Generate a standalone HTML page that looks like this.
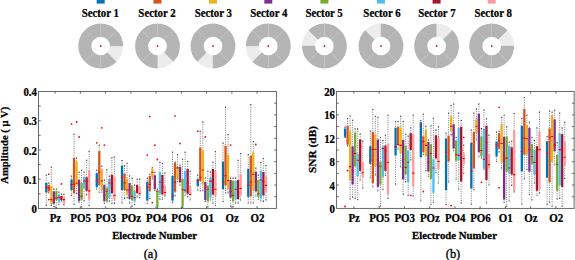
<!DOCTYPE html><html><head><meta charset="utf-8"><style>html,body{margin:0;padding:0;background:#fff;width:575px;height:260px;overflow:hidden}svg{display:block}text{font-family:"Liberation Serif",serif;fill:#000}</style></head><body>
<svg width="575" height="260" viewBox="0 0 575 260">
<rect x="96.70" y="0" width="8.0" height="3.6" fill="#0072BD"/>
<text transform="translate(100.30,16.70) scale(0.9,1)" font-size="12" text-anchor="middle" font-weight="bold" stroke="#000" stroke-width="0.25">Sector 1</text>
<path d="M123.10,46.00 A22.4,22.4 0 0 1 116.54,61.84 L107.31,52.61 A9.35,9.35 0 0 0 110.05,46.00 Z" fill="#ececec"/>
<path d="M116.54,61.84 A22.4,22.4 0 0 1 100.70,68.40 L100.70,55.35 A9.35,9.35 0 0 0 107.31,52.61 Z" fill="#b4b4b4"/>
<path d="M100.70,68.40 A22.4,22.4 0 0 1 84.86,61.84 L94.09,52.61 A9.35,9.35 0 0 0 100.70,55.35 Z" fill="#b4b4b4"/>
<path d="M84.86,61.84 A22.4,22.4 0 0 1 78.30,46.00 L91.35,46.00 A9.35,9.35 0 0 0 94.09,52.61 Z" fill="#b4b4b4"/>
<path d="M78.30,46.00 A22.4,22.4 0 0 1 84.86,30.16 L94.09,39.39 A9.35,9.35 0 0 0 91.35,46.00 Z" fill="#b4b4b4"/>
<path d="M84.86,30.16 A22.4,22.4 0 0 1 100.70,23.60 L100.70,36.65 A9.35,9.35 0 0 0 94.09,39.39 Z" fill="#b4b4b4"/>
<path d="M100.70,23.60 A22.4,22.4 0 0 1 116.54,30.16 L107.31,39.39 A9.35,9.35 0 0 0 100.70,36.65 Z" fill="#b4b4b4"/>
<path d="M116.54,30.16 A22.4,22.4 0 0 1 123.10,46.00 L110.05,46.00 A9.35,9.35 0 0 0 107.31,39.39 Z" fill="#b4b4b4"/>
<line x1="110.05" y1="46.00" x2="123.10" y2="46.00" stroke="#bebebe" stroke-width="0.4"/>
<line x1="107.31" y1="52.61" x2="116.54" y2="61.84" stroke="#bebebe" stroke-width="0.4"/>
<line x1="100.70" y1="55.35" x2="100.70" y2="68.40" stroke="#bebebe" stroke-width="0.4"/>
<line x1="94.09" y1="52.61" x2="84.86" y2="61.84" stroke="#bebebe" stroke-width="0.4"/>
<line x1="91.35" y1="46.00" x2="78.30" y2="46.00" stroke="#bebebe" stroke-width="0.4"/>
<line x1="94.09" y1="39.39" x2="84.86" y2="30.16" stroke="#bebebe" stroke-width="0.4"/>
<line x1="100.70" y1="36.65" x2="100.70" y2="23.60" stroke="#bebebe" stroke-width="0.4"/>
<line x1="107.31" y1="39.39" x2="116.54" y2="30.16" stroke="#bebebe" stroke-width="0.4"/>
<circle cx="100.70" cy="46.0" r="0.95" fill="#c0282d"/>
<rect x="153.50" y="0" width="8.0" height="3.6" fill="#D95319"/>
<text transform="translate(157.00,16.70) scale(0.9,1)" font-size="12" text-anchor="middle" font-weight="bold" stroke="#000" stroke-width="0.25">Sector 2</text>
<path d="M179.90,46.00 A22.4,22.4 0 0 1 173.34,61.84 L164.11,52.61 A9.35,9.35 0 0 0 166.85,46.00 Z" fill="#b4b4b4"/>
<path d="M173.34,61.84 A22.4,22.4 0 0 1 157.50,68.40 L157.50,55.35 A9.35,9.35 0 0 0 164.11,52.61 Z" fill="#ececec"/>
<path d="M157.50,68.40 A22.4,22.4 0 0 1 141.66,61.84 L150.89,52.61 A9.35,9.35 0 0 0 157.50,55.35 Z" fill="#b4b4b4"/>
<path d="M141.66,61.84 A22.4,22.4 0 0 1 135.10,46.00 L148.15,46.00 A9.35,9.35 0 0 0 150.89,52.61 Z" fill="#b4b4b4"/>
<path d="M135.10,46.00 A22.4,22.4 0 0 1 141.66,30.16 L150.89,39.39 A9.35,9.35 0 0 0 148.15,46.00 Z" fill="#b4b4b4"/>
<path d="M141.66,30.16 A22.4,22.4 0 0 1 157.50,23.60 L157.50,36.65 A9.35,9.35 0 0 0 150.89,39.39 Z" fill="#b4b4b4"/>
<path d="M157.50,23.60 A22.4,22.4 0 0 1 173.34,30.16 L164.11,39.39 A9.35,9.35 0 0 0 157.50,36.65 Z" fill="#b4b4b4"/>
<path d="M173.34,30.16 A22.4,22.4 0 0 1 179.90,46.00 L166.85,46.00 A9.35,9.35 0 0 0 164.11,39.39 Z" fill="#b4b4b4"/>
<line x1="166.85" y1="46.00" x2="179.90" y2="46.00" stroke="#bebebe" stroke-width="0.4"/>
<line x1="164.11" y1="52.61" x2="173.34" y2="61.84" stroke="#bebebe" stroke-width="0.4"/>
<line x1="157.50" y1="55.35" x2="157.50" y2="68.40" stroke="#bebebe" stroke-width="0.4"/>
<line x1="150.89" y1="52.61" x2="141.66" y2="61.84" stroke="#bebebe" stroke-width="0.4"/>
<line x1="148.15" y1="46.00" x2="135.10" y2="46.00" stroke="#bebebe" stroke-width="0.4"/>
<line x1="150.89" y1="39.39" x2="141.66" y2="30.16" stroke="#bebebe" stroke-width="0.4"/>
<line x1="157.50" y1="36.65" x2="157.50" y2="23.60" stroke="#bebebe" stroke-width="0.4"/>
<line x1="164.11" y1="39.39" x2="173.34" y2="30.16" stroke="#bebebe" stroke-width="0.4"/>
<circle cx="157.50" cy="46.0" r="0.95" fill="#c0282d"/>
<rect x="209.00" y="0" width="8.0" height="3.6" fill="#EDB120"/>
<text transform="translate(213.30,16.70) scale(0.9,1)" font-size="12" text-anchor="middle" font-weight="bold" stroke="#000" stroke-width="0.25">Sector 3</text>
<path d="M235.40,46.00 A22.4,22.4 0 0 1 228.84,61.84 L219.61,52.61 A9.35,9.35 0 0 0 222.35,46.00 Z" fill="#b4b4b4"/>
<path d="M228.84,61.84 A22.4,22.4 0 0 1 213.00,68.40 L213.00,55.35 A9.35,9.35 0 0 0 219.61,52.61 Z" fill="#b4b4b4"/>
<path d="M213.00,68.40 A22.4,22.4 0 0 1 197.16,61.84 L206.39,52.61 A9.35,9.35 0 0 0 213.00,55.35 Z" fill="#ececec"/>
<path d="M197.16,61.84 A22.4,22.4 0 0 1 190.60,46.00 L203.65,46.00 A9.35,9.35 0 0 0 206.39,52.61 Z" fill="#b4b4b4"/>
<path d="M190.60,46.00 A22.4,22.4 0 0 1 197.16,30.16 L206.39,39.39 A9.35,9.35 0 0 0 203.65,46.00 Z" fill="#b4b4b4"/>
<path d="M197.16,30.16 A22.4,22.4 0 0 1 213.00,23.60 L213.00,36.65 A9.35,9.35 0 0 0 206.39,39.39 Z" fill="#b4b4b4"/>
<path d="M213.00,23.60 A22.4,22.4 0 0 1 228.84,30.16 L219.61,39.39 A9.35,9.35 0 0 0 213.00,36.65 Z" fill="#b4b4b4"/>
<path d="M228.84,30.16 A22.4,22.4 0 0 1 235.40,46.00 L222.35,46.00 A9.35,9.35 0 0 0 219.61,39.39 Z" fill="#b4b4b4"/>
<line x1="222.35" y1="46.00" x2="235.40" y2="46.00" stroke="#bebebe" stroke-width="0.4"/>
<line x1="219.61" y1="52.61" x2="228.84" y2="61.84" stroke="#bebebe" stroke-width="0.4"/>
<line x1="213.00" y1="55.35" x2="213.00" y2="68.40" stroke="#bebebe" stroke-width="0.4"/>
<line x1="206.39" y1="52.61" x2="197.16" y2="61.84" stroke="#bebebe" stroke-width="0.4"/>
<line x1="203.65" y1="46.00" x2="190.60" y2="46.00" stroke="#bebebe" stroke-width="0.4"/>
<line x1="206.39" y1="39.39" x2="197.16" y2="30.16" stroke="#bebebe" stroke-width="0.4"/>
<line x1="213.00" y1="36.65" x2="213.00" y2="23.60" stroke="#bebebe" stroke-width="0.4"/>
<line x1="219.61" y1="39.39" x2="228.84" y2="30.16" stroke="#bebebe" stroke-width="0.4"/>
<circle cx="213.00" cy="46.0" r="0.95" fill="#c0282d"/>
<rect x="264.30" y="0" width="8.0" height="3.6" fill="#7E2F8E"/>
<text transform="translate(268.80,16.70) scale(0.9,1)" font-size="12" text-anchor="middle" font-weight="bold" stroke="#000" stroke-width="0.25">Sector 4</text>
<path d="M290.70,46.00 A22.4,22.4 0 0 1 284.14,61.84 L274.91,52.61 A9.35,9.35 0 0 0 277.65,46.00 Z" fill="#b4b4b4"/>
<path d="M284.14,61.84 A22.4,22.4 0 0 1 268.30,68.40 L268.30,55.35 A9.35,9.35 0 0 0 274.91,52.61 Z" fill="#b4b4b4"/>
<path d="M268.30,68.40 A22.4,22.4 0 0 1 252.46,61.84 L261.69,52.61 A9.35,9.35 0 0 0 268.30,55.35 Z" fill="#b4b4b4"/>
<path d="M252.46,61.84 A22.4,22.4 0 0 1 245.90,46.00 L258.95,46.00 A9.35,9.35 0 0 0 261.69,52.61 Z" fill="#ececec"/>
<path d="M245.90,46.00 A22.4,22.4 0 0 1 252.46,30.16 L261.69,39.39 A9.35,9.35 0 0 0 258.95,46.00 Z" fill="#b4b4b4"/>
<path d="M252.46,30.16 A22.4,22.4 0 0 1 268.30,23.60 L268.30,36.65 A9.35,9.35 0 0 0 261.69,39.39 Z" fill="#b4b4b4"/>
<path d="M268.30,23.60 A22.4,22.4 0 0 1 284.14,30.16 L274.91,39.39 A9.35,9.35 0 0 0 268.30,36.65 Z" fill="#b4b4b4"/>
<path d="M284.14,30.16 A22.4,22.4 0 0 1 290.70,46.00 L277.65,46.00 A9.35,9.35 0 0 0 274.91,39.39 Z" fill="#b4b4b4"/>
<line x1="277.65" y1="46.00" x2="290.70" y2="46.00" stroke="#bebebe" stroke-width="0.4"/>
<line x1="274.91" y1="52.61" x2="284.14" y2="61.84" stroke="#bebebe" stroke-width="0.4"/>
<line x1="268.30" y1="55.35" x2="268.30" y2="68.40" stroke="#bebebe" stroke-width="0.4"/>
<line x1="261.69" y1="52.61" x2="252.46" y2="61.84" stroke="#bebebe" stroke-width="0.4"/>
<line x1="258.95" y1="46.00" x2="245.90" y2="46.00" stroke="#bebebe" stroke-width="0.4"/>
<line x1="261.69" y1="39.39" x2="252.46" y2="30.16" stroke="#bebebe" stroke-width="0.4"/>
<line x1="268.30" y1="36.65" x2="268.30" y2="23.60" stroke="#bebebe" stroke-width="0.4"/>
<line x1="274.91" y1="39.39" x2="284.14" y2="30.16" stroke="#bebebe" stroke-width="0.4"/>
<circle cx="268.30" cy="46.0" r="0.95" fill="#c0282d"/>
<rect x="320.40" y="0" width="8.0" height="3.6" fill="#77AC30"/>
<text transform="translate(324.10,16.70) scale(0.9,1)" font-size="12" text-anchor="middle" font-weight="bold" stroke="#000" stroke-width="0.25">Sector 5</text>
<path d="M346.80,46.00 A22.4,22.4 0 0 1 340.24,61.84 L331.01,52.61 A9.35,9.35 0 0 0 333.75,46.00 Z" fill="#b4b4b4"/>
<path d="M340.24,61.84 A22.4,22.4 0 0 1 324.40,68.40 L324.40,55.35 A9.35,9.35 0 0 0 331.01,52.61 Z" fill="#b4b4b4"/>
<path d="M324.40,68.40 A22.4,22.4 0 0 1 308.56,61.84 L317.79,52.61 A9.35,9.35 0 0 0 324.40,55.35 Z" fill="#b4b4b4"/>
<path d="M308.56,61.84 A22.4,22.4 0 0 1 302.00,46.00 L315.05,46.00 A9.35,9.35 0 0 0 317.79,52.61 Z" fill="#b4b4b4"/>
<path d="M302.00,46.00 A22.4,22.4 0 0 1 308.56,30.16 L317.79,39.39 A9.35,9.35 0 0 0 315.05,46.00 Z" fill="#ececec"/>
<path d="M308.56,30.16 A22.4,22.4 0 0 1 324.40,23.60 L324.40,36.65 A9.35,9.35 0 0 0 317.79,39.39 Z" fill="#b4b4b4"/>
<path d="M324.40,23.60 A22.4,22.4 0 0 1 340.24,30.16 L331.01,39.39 A9.35,9.35 0 0 0 324.40,36.65 Z" fill="#b4b4b4"/>
<path d="M340.24,30.16 A22.4,22.4 0 0 1 346.80,46.00 L333.75,46.00 A9.35,9.35 0 0 0 331.01,39.39 Z" fill="#b4b4b4"/>
<line x1="333.75" y1="46.00" x2="346.80" y2="46.00" stroke="#bebebe" stroke-width="0.4"/>
<line x1="331.01" y1="52.61" x2="340.24" y2="61.84" stroke="#bebebe" stroke-width="0.4"/>
<line x1="324.40" y1="55.35" x2="324.40" y2="68.40" stroke="#bebebe" stroke-width="0.4"/>
<line x1="317.79" y1="52.61" x2="308.56" y2="61.84" stroke="#bebebe" stroke-width="0.4"/>
<line x1="315.05" y1="46.00" x2="302.00" y2="46.00" stroke="#bebebe" stroke-width="0.4"/>
<line x1="317.79" y1="39.39" x2="308.56" y2="30.16" stroke="#bebebe" stroke-width="0.4"/>
<line x1="324.40" y1="36.65" x2="324.40" y2="23.60" stroke="#bebebe" stroke-width="0.4"/>
<line x1="331.01" y1="39.39" x2="340.24" y2="30.16" stroke="#bebebe" stroke-width="0.4"/>
<circle cx="324.40" cy="46.0" r="0.95" fill="#c0282d"/>
<rect x="377.00" y="0" width="8.0" height="3.6" fill="#4DBEEE"/>
<text transform="translate(382.00,16.70) scale(0.9,1)" font-size="12" text-anchor="middle" font-weight="bold" stroke="#000" stroke-width="0.25">Sector 6</text>
<path d="M403.40,46.00 A22.4,22.4 0 0 1 396.84,61.84 L387.61,52.61 A9.35,9.35 0 0 0 390.35,46.00 Z" fill="#b4b4b4"/>
<path d="M396.84,61.84 A22.4,22.4 0 0 1 381.00,68.40 L381.00,55.35 A9.35,9.35 0 0 0 387.61,52.61 Z" fill="#b4b4b4"/>
<path d="M381.00,68.40 A22.4,22.4 0 0 1 365.16,61.84 L374.39,52.61 A9.35,9.35 0 0 0 381.00,55.35 Z" fill="#b4b4b4"/>
<path d="M365.16,61.84 A22.4,22.4 0 0 1 358.60,46.00 L371.65,46.00 A9.35,9.35 0 0 0 374.39,52.61 Z" fill="#b4b4b4"/>
<path d="M358.60,46.00 A22.4,22.4 0 0 1 365.16,30.16 L374.39,39.39 A9.35,9.35 0 0 0 371.65,46.00 Z" fill="#b4b4b4"/>
<path d="M365.16,30.16 A22.4,22.4 0 0 1 381.00,23.60 L381.00,36.65 A9.35,9.35 0 0 0 374.39,39.39 Z" fill="#ececec"/>
<path d="M381.00,23.60 A22.4,22.4 0 0 1 396.84,30.16 L387.61,39.39 A9.35,9.35 0 0 0 381.00,36.65 Z" fill="#b4b4b4"/>
<path d="M396.84,30.16 A22.4,22.4 0 0 1 403.40,46.00 L390.35,46.00 A9.35,9.35 0 0 0 387.61,39.39 Z" fill="#b4b4b4"/>
<line x1="390.35" y1="46.00" x2="403.40" y2="46.00" stroke="#bebebe" stroke-width="0.4"/>
<line x1="387.61" y1="52.61" x2="396.84" y2="61.84" stroke="#bebebe" stroke-width="0.4"/>
<line x1="381.00" y1="55.35" x2="381.00" y2="68.40" stroke="#bebebe" stroke-width="0.4"/>
<line x1="374.39" y1="52.61" x2="365.16" y2="61.84" stroke="#bebebe" stroke-width="0.4"/>
<line x1="371.65" y1="46.00" x2="358.60" y2="46.00" stroke="#bebebe" stroke-width="0.4"/>
<line x1="374.39" y1="39.39" x2="365.16" y2="30.16" stroke="#bebebe" stroke-width="0.4"/>
<line x1="381.00" y1="36.65" x2="381.00" y2="23.60" stroke="#bebebe" stroke-width="0.4"/>
<line x1="387.61" y1="39.39" x2="396.84" y2="30.16" stroke="#bebebe" stroke-width="0.4"/>
<circle cx="381.00" cy="46.0" r="0.95" fill="#c0282d"/>
<rect x="432.60" y="0" width="8.0" height="3.6" fill="#A2142F"/>
<text transform="translate(436.90,16.70) scale(0.9,1)" font-size="12" text-anchor="middle" font-weight="bold" stroke="#000" stroke-width="0.25">Sector 7</text>
<path d="M459.00,46.00 A22.4,22.4 0 0 1 452.44,61.84 L443.21,52.61 A9.35,9.35 0 0 0 445.95,46.00 Z" fill="#b4b4b4"/>
<path d="M452.44,61.84 A22.4,22.4 0 0 1 436.60,68.40 L436.60,55.35 A9.35,9.35 0 0 0 443.21,52.61 Z" fill="#b4b4b4"/>
<path d="M436.60,68.40 A22.4,22.4 0 0 1 420.76,61.84 L429.99,52.61 A9.35,9.35 0 0 0 436.60,55.35 Z" fill="#b4b4b4"/>
<path d="M420.76,61.84 A22.4,22.4 0 0 1 414.20,46.00 L427.25,46.00 A9.35,9.35 0 0 0 429.99,52.61 Z" fill="#b4b4b4"/>
<path d="M414.20,46.00 A22.4,22.4 0 0 1 420.76,30.16 L429.99,39.39 A9.35,9.35 0 0 0 427.25,46.00 Z" fill="#b4b4b4"/>
<path d="M420.76,30.16 A22.4,22.4 0 0 1 436.60,23.60 L436.60,36.65 A9.35,9.35 0 0 0 429.99,39.39 Z" fill="#b4b4b4"/>
<path d="M436.60,23.60 A22.4,22.4 0 0 1 452.44,30.16 L443.21,39.39 A9.35,9.35 0 0 0 436.60,36.65 Z" fill="#ececec"/>
<path d="M452.44,30.16 A22.4,22.4 0 0 1 459.00,46.00 L445.95,46.00 A9.35,9.35 0 0 0 443.21,39.39 Z" fill="#b4b4b4"/>
<line x1="445.95" y1="46.00" x2="459.00" y2="46.00" stroke="#bebebe" stroke-width="0.4"/>
<line x1="443.21" y1="52.61" x2="452.44" y2="61.84" stroke="#bebebe" stroke-width="0.4"/>
<line x1="436.60" y1="55.35" x2="436.60" y2="68.40" stroke="#bebebe" stroke-width="0.4"/>
<line x1="429.99" y1="52.61" x2="420.76" y2="61.84" stroke="#bebebe" stroke-width="0.4"/>
<line x1="427.25" y1="46.00" x2="414.20" y2="46.00" stroke="#bebebe" stroke-width="0.4"/>
<line x1="429.99" y1="39.39" x2="420.76" y2="30.16" stroke="#bebebe" stroke-width="0.4"/>
<line x1="436.60" y1="36.65" x2="436.60" y2="23.60" stroke="#bebebe" stroke-width="0.4"/>
<line x1="443.21" y1="39.39" x2="452.44" y2="30.16" stroke="#bebebe" stroke-width="0.4"/>
<circle cx="436.60" cy="46.0" r="0.95" fill="#c0282d"/>
<rect x="487.70" y="0" width="8.0" height="3.6" fill="#FF9B9B"/>
<text transform="translate(493.20,16.70) scale(0.9,1)" font-size="12" text-anchor="middle" font-weight="bold" stroke="#000" stroke-width="0.25">Sector 8</text>
<path d="M514.10,46.00 A22.4,22.4 0 0 1 507.54,61.84 L498.31,52.61 A9.35,9.35 0 0 0 501.05,46.00 Z" fill="#b4b4b4"/>
<path d="M507.54,61.84 A22.4,22.4 0 0 1 491.70,68.40 L491.70,55.35 A9.35,9.35 0 0 0 498.31,52.61 Z" fill="#b4b4b4"/>
<path d="M491.70,68.40 A22.4,22.4 0 0 1 475.86,61.84 L485.09,52.61 A9.35,9.35 0 0 0 491.70,55.35 Z" fill="#b4b4b4"/>
<path d="M475.86,61.84 A22.4,22.4 0 0 1 469.30,46.00 L482.35,46.00 A9.35,9.35 0 0 0 485.09,52.61 Z" fill="#b4b4b4"/>
<path d="M469.30,46.00 A22.4,22.4 0 0 1 475.86,30.16 L485.09,39.39 A9.35,9.35 0 0 0 482.35,46.00 Z" fill="#b4b4b4"/>
<path d="M475.86,30.16 A22.4,22.4 0 0 1 491.70,23.60 L491.70,36.65 A9.35,9.35 0 0 0 485.09,39.39 Z" fill="#b4b4b4"/>
<path d="M491.70,23.60 A22.4,22.4 0 0 1 507.54,30.16 L498.31,39.39 A9.35,9.35 0 0 0 491.70,36.65 Z" fill="#b4b4b4"/>
<path d="M507.54,30.16 A22.4,22.4 0 0 1 514.10,46.00 L501.05,46.00 A9.35,9.35 0 0 0 498.31,39.39 Z" fill="#ececec"/>
<line x1="501.05" y1="46.00" x2="514.10" y2="46.00" stroke="#bebebe" stroke-width="0.4"/>
<line x1="498.31" y1="52.61" x2="507.54" y2="61.84" stroke="#bebebe" stroke-width="0.4"/>
<line x1="491.70" y1="55.35" x2="491.70" y2="68.40" stroke="#bebebe" stroke-width="0.4"/>
<line x1="485.09" y1="52.61" x2="475.86" y2="61.84" stroke="#bebebe" stroke-width="0.4"/>
<line x1="482.35" y1="46.00" x2="469.30" y2="46.00" stroke="#bebebe" stroke-width="0.4"/>
<line x1="485.09" y1="39.39" x2="475.86" y2="30.16" stroke="#bebebe" stroke-width="0.4"/>
<line x1="491.70" y1="36.65" x2="491.70" y2="23.60" stroke="#bebebe" stroke-width="0.4"/>
<line x1="498.31" y1="39.39" x2="507.54" y2="30.16" stroke="#bebebe" stroke-width="0.4"/>
<circle cx="491.70" cy="46.0" r="0.95" fill="#c0282d"/>
<rect x="38.5" y="91.5" width="237.90" height="116.90" fill="none" stroke="#5a5a5a" stroke-width="0.9"/>
<path d="M55.10,91.5v2.2M55.10,208.4v-2.2M80.35,91.5v2.2M80.35,208.4v-2.2M105.60,91.5v2.2M105.60,208.4v-2.2M130.85,91.5v2.2M130.85,208.4v-2.2M156.10,91.5v2.2M156.10,208.4v-2.2M181.35,91.5v2.2M181.35,208.4v-2.2M206.60,91.5v2.2M206.60,208.4v-2.2M231.85,91.5v2.2M231.85,208.4v-2.2M257.10,91.5v2.2M257.10,208.4v-2.2M38.5,106.11h2.2M38.5,120.72h2.2M38.5,135.34h2.2M38.5,149.95h2.2M38.5,164.56h2.2M38.5,179.18h2.2M38.5,193.79h2.2M276.4,103.19h-2.2M276.4,114.88h-2.2M276.4,126.57h-2.2M276.4,138.26h-2.2M276.4,149.95h-2.2M276.4,161.64h-2.2M276.4,173.33h-2.2M276.4,185.02h-2.2M276.4,196.71h-2.2" stroke="#444" stroke-width="0.8" fill="none"/>
<text transform="translate(36.90,96.10) scale(0.9,1)" font-size="12" text-anchor="end" font-weight="bold" stroke="#000" stroke-width="0.25">0.4</text>
<text transform="translate(36.90,125.32) scale(0.9,1)" font-size="12" text-anchor="end" font-weight="bold" stroke="#000" stroke-width="0.25">0.3</text>
<text transform="translate(36.90,154.55) scale(0.9,1)" font-size="12" text-anchor="end" font-weight="bold" stroke="#000" stroke-width="0.25">0.2</text>
<text transform="translate(36.90,183.78) scale(0.9,1)" font-size="12" text-anchor="end" font-weight="bold" stroke="#000" stroke-width="0.25">0.1</text>
<text transform="translate(36.90,213.00) scale(0.9,1)" font-size="12" text-anchor="end" font-weight="bold" stroke="#000" stroke-width="0.25">0</text>
<rect x="336.6" y="91.5" width="237.50" height="116.90" fill="none" stroke="#5a5a5a" stroke-width="0.9"/>
<path d="M353.90,91.5v2.2M353.90,208.4v-2.2M379.15,91.5v2.2M379.15,208.4v-2.2M404.40,91.5v2.2M404.40,208.4v-2.2M429.65,91.5v2.2M429.65,208.4v-2.2M454.90,91.5v2.2M454.90,208.4v-2.2M480.15,91.5v2.2M480.15,208.4v-2.2M505.40,91.5v2.2M505.40,208.4v-2.2M530.65,91.5v2.2M530.65,208.4v-2.2M555.90,91.5v2.2M555.90,208.4v-2.2M336.6,103.19h2.2M336.6,114.88h2.2M336.6,126.57h2.2M336.6,138.26h2.2M336.6,149.95h2.2M336.6,161.64h2.2M336.6,173.33h2.2M336.6,185.02h2.2M336.6,196.71h2.2M574.1,103.19h-2.2M574.1,114.88h-2.2M574.1,126.57h-2.2M574.1,138.26h-2.2M574.1,149.95h-2.2M574.1,161.64h-2.2M574.1,173.33h-2.2M574.1,185.02h-2.2M574.1,196.71h-2.2" stroke="#444" stroke-width="0.8" fill="none"/>
<text transform="translate(335.00,96.10) scale(0.9,1)" font-size="12" text-anchor="end" font-weight="bold" stroke="#000" stroke-width="0.25">20</text>
<text transform="translate(335.00,119.48) scale(0.9,1)" font-size="12" text-anchor="end" font-weight="bold" stroke="#000" stroke-width="0.25">16</text>
<text transform="translate(335.00,142.86) scale(0.9,1)" font-size="12" text-anchor="end" font-weight="bold" stroke="#000" stroke-width="0.25">12</text>
<text transform="translate(335.00,166.24) scale(0.9,1)" font-size="12" text-anchor="end" font-weight="bold" stroke="#000" stroke-width="0.25">8</text>
<text transform="translate(335.00,189.62) scale(0.9,1)" font-size="12" text-anchor="end" font-weight="bold" stroke="#000" stroke-width="0.25">4</text>
<text transform="translate(335.00,213.00) scale(0.9,1)" font-size="12" text-anchor="end" font-weight="bold" stroke="#000" stroke-width="0.25">0</text>
<text transform="translate(55.40,222.20) scale(0.91,1)" font-size="12" text-anchor="middle" font-weight="bold" stroke="#000" stroke-width="0.25">Pz</text>
<text transform="translate(354.20,222.20) scale(0.91,1)" font-size="12" text-anchor="middle" font-weight="bold" stroke="#000" stroke-width="0.25">Pz</text>
<text transform="translate(80.65,222.20) scale(0.91,1)" font-size="12" text-anchor="middle" font-weight="bold" stroke="#000" stroke-width="0.25">PO5</text>
<text transform="translate(379.45,222.20) scale(0.91,1)" font-size="12" text-anchor="middle" font-weight="bold" stroke="#000" stroke-width="0.25">PO5</text>
<text transform="translate(105.90,222.20) scale(0.91,1)" font-size="12" text-anchor="middle" font-weight="bold" stroke="#000" stroke-width="0.25">PO3</text>
<text transform="translate(404.70,222.20) scale(0.91,1)" font-size="12" text-anchor="middle" font-weight="bold" stroke="#000" stroke-width="0.25">PO3</text>
<text transform="translate(131.15,222.20) scale(0.91,1)" font-size="12" text-anchor="middle" font-weight="bold" stroke="#000" stroke-width="0.25">POz</text>
<text transform="translate(429.95,222.20) scale(0.91,1)" font-size="12" text-anchor="middle" font-weight="bold" stroke="#000" stroke-width="0.25">POz</text>
<text transform="translate(156.40,222.20) scale(0.91,1)" font-size="12" text-anchor="middle" font-weight="bold" stroke="#000" stroke-width="0.25">PO4</text>
<text transform="translate(455.20,222.20) scale(0.91,1)" font-size="12" text-anchor="middle" font-weight="bold" stroke="#000" stroke-width="0.25">PO4</text>
<text transform="translate(181.65,222.20) scale(0.91,1)" font-size="12" text-anchor="middle" font-weight="bold" stroke="#000" stroke-width="0.25">PO6</text>
<text transform="translate(480.45,222.20) scale(0.91,1)" font-size="12" text-anchor="middle" font-weight="bold" stroke="#000" stroke-width="0.25">PO6</text>
<text transform="translate(206.90,222.20) scale(0.91,1)" font-size="12" text-anchor="middle" font-weight="bold" stroke="#000" stroke-width="0.25">O1</text>
<text transform="translate(505.70,222.20) scale(0.91,1)" font-size="12" text-anchor="middle" font-weight="bold" stroke="#000" stroke-width="0.25">O1</text>
<text transform="translate(232.15,222.20) scale(0.91,1)" font-size="12" text-anchor="middle" font-weight="bold" stroke="#000" stroke-width="0.25">Oz</text>
<text transform="translate(530.95,222.20) scale(0.91,1)" font-size="12" text-anchor="middle" font-weight="bold" stroke="#000" stroke-width="0.25">Oz</text>
<text transform="translate(257.40,222.20) scale(0.91,1)" font-size="12" text-anchor="middle" font-weight="bold" stroke="#000" stroke-width="0.25">O2</text>
<text transform="translate(556.20,222.20) scale(0.91,1)" font-size="12" text-anchor="middle" font-weight="bold" stroke="#000" stroke-width="0.25">O2</text>
<text transform="translate(154.60,238.70) scale(0.96,1)" font-size="11.2" text-anchor="middle" font-weight="bold" stroke="#000" stroke-width="0.25">Electrode Number</text>
<text transform="translate(454.50,238.70) scale(0.96,1)" font-size="11.2" text-anchor="middle" font-weight="bold" stroke="#000" stroke-width="0.25">Electrode Number</text>
<text transform="translate(150.60,257.80) scale(0.92,1)" font-size="13.5" text-anchor="middle" font-weight="normal" stroke="#000" stroke-width="0.35">(a)</text>
<text transform="translate(453.00,257.80) scale(0.92,1)" font-size="13.5" text-anchor="middle" font-weight="normal" stroke="#000" stroke-width="0.35">(b)</text>
<text transform="translate(7.60,145.20) rotate(-90)" font-size="10.6" text-anchor="middle" font-weight="bold" stroke="#000" stroke-width="0.25">Amplitude ( μ V)</text>
<text transform="translate(316.40,149.50) rotate(-90)" font-size="11.4" text-anchor="middle" font-weight="bold" stroke="#000" stroke-width="0.25">SNR (dB)</text>
<path d="M46.28,175.20V182.70M46.28,192.50V205.40M48.80,183.00V184.80M48.80,191.50V193.00M51.32,167.10V185.40M51.32,204.40V205.50M53.84,189.00V191.30M53.84,203.80V206.50M56.36,189.00V190.90M56.36,200.00V208.00M58.88,192.00V194.20M58.88,201.90V204.20M61.40,194.00V195.80M61.40,200.00V201.00M63.92,194.20V196.50M63.92,203.80V205.00M71.53,176.00V179.50M71.53,190.30V195.30M74.05,134.10V157.90M74.05,193.40V204.50M76.57,158.10V161.60M76.57,185.50V193.40M79.09,172.00V179.80M79.09,200.80V202.00M81.61,170.20V182.90M81.61,199.60V207.00M84.13,172.00V176.80M84.13,188.50V200.80M86.65,160.20V177.20M86.65,190.90V195.00M89.17,151.40V169.90M89.17,199.60V205.70M96.78,170.00V173.20M96.78,187.10V189.10M99.30,145.00V151.10M99.30,185.10V192.20M101.82,166.00V169.40M101.82,190.10V192.20M104.34,180.00V184.70M104.34,201.20V203.30M106.86,169.70V187.40M106.86,201.20V201.90M109.38,176.10V179.00M109.38,197.90V201.20M111.90,157.70V174.80M111.90,193.20V203.30M114.42,157.00V176.30M114.42,199.90V203.30M122.03,160.50V165.60M122.03,190.00V203.00M124.55,165.60V173.60M124.55,190.00V198.50M127.07,163.10V178.50M127.07,194.60V197.70M129.59,175.80V183.00M129.59,198.90V203.00M132.11,178.00V185.40M132.11,200.00V206.20M134.63,185.00V190.80M134.63,201.50V204.60M137.15,179.20V185.00M137.15,193.00V197.00M139.67,179.20V187.00M139.67,194.60V197.70M147.28,178.00V181.70M147.28,200.60V203.30M149.80,174.10V175.80M149.80,191.20V198.60M152.32,167.70V168.60M152.32,177.00V179.00M154.84,172.30V175.20M154.84,189.10V190.50M157.36,189.00V190.50M157.36,207.30V208.00M159.88,162.20V171.80M159.88,193.80V199.20M162.40,163.30V174.90M162.40,194.50V199.20M164.92,172.90V185.80M164.92,195.20V196.00M172.53,152.10V175.90M172.53,200.60V202.60M175.05,162.00V162.70M175.05,191.80V196.00M177.57,154.60V167.00M177.57,179.00V181.70M180.09,165.00V166.70M180.09,182.40V185.10M182.61,159.20V179.00M182.61,206.60V207.50M185.13,152.10V170.70M185.13,192.50V195.20M187.65,161.30V169.00M187.65,193.80V197.00M190.17,171.30V185.80M190.17,195.20V199.90M197.78,175.00V178.90M197.78,186.20V190.00M200.30,131.20V147.40M200.30,181.00V190.80M202.82,121.90V150.10M202.82,184.60V190.80M205.34,178.00V182.00M205.34,200.00V201.50M207.86,171.00V185.40M207.86,201.50V206.90M210.38,172.00V177.70M210.38,197.70V200.00M212.90,162.20V168.90M212.90,194.60V203.10M215.42,151.40V171.00M215.42,196.20V205.40M223.03,143.00V161.50M223.03,189.20V201.50M225.55,107.00V145.70M225.55,185.40V193.00M228.07,134.50V154.50M228.07,189.20V193.00M230.59,178.00V180.00M230.59,197.70V206.20M233.11,178.00V180.80M233.11,201.50V206.90M235.63,178.00V180.80M235.63,199.20V203.10M238.15,160.20V180.00M238.15,199.20V203.10M240.67,153.50V173.80M240.67,195.40V200.00M248.28,154.70V168.80M248.28,196.90V203.10M250.80,104.50V155.80M250.80,196.20V203.10M253.32,141.50V152.20M253.32,190.00V203.10M255.84,168.00V171.60M255.84,191.50V196.00M258.36,175.00V180.00M258.36,196.90V199.20M260.88,162.40V170.70M260.88,198.50V200.80M263.40,158.40V171.90M263.40,195.40V201.50M265.92,165.50V176.20M265.92,192.30V200.00" stroke="#444" stroke-width="0.65" stroke-dasharray="1.1,1.2" fill="none"/>
<path d="M45.68,175.20H46.88M45.68,205.40H46.88M48.20,183.00H49.40M48.20,193.00H49.40M50.72,167.10H51.92M50.72,205.50H51.92M53.24,189.00H54.44M53.24,206.50H54.44M55.76,189.00H56.96M55.76,208.00H56.96M58.28,192.00H59.48M58.28,204.20H59.48M60.80,194.00H62.00M60.80,201.00H62.00M63.32,194.20H64.52M63.32,205.00H64.52M70.93,176.00H72.13M70.93,195.30H72.13M73.45,134.10H74.65M73.45,204.50H74.65M75.97,158.10H77.17M75.97,193.40H77.17M78.49,172.00H79.69M78.49,202.00H79.69M81.01,170.20H82.21M81.01,207.00H82.21M83.53,172.00H84.73M83.53,200.80H84.73M86.05,160.20H87.25M86.05,195.00H87.25M88.57,151.40H89.77M88.57,205.70H89.77M96.18,170.00H97.38M96.18,189.10H97.38M98.70,145.00H99.90M98.70,192.20H99.90M101.22,166.00H102.42M101.22,192.20H102.42M103.74,180.00H104.94M103.74,203.30H104.94M106.26,169.70H107.46M106.26,201.90H107.46M108.78,176.10H109.98M108.78,201.20H109.98M111.30,157.70H112.50M111.30,203.30H112.50M113.82,157.00H115.02M113.82,203.30H115.02M121.43,160.50H122.63M121.43,203.00H122.63M123.95,165.60H125.15M123.95,198.50H125.15M126.47,163.10H127.67M126.47,197.70H127.67M128.99,175.80H130.19M128.99,203.00H130.19M131.51,178.00H132.71M131.51,206.20H132.71M134.03,185.00H135.23M134.03,204.60H135.23M136.55,179.20H137.75M136.55,197.00H137.75M139.07,179.20H140.27M139.07,197.70H140.27M146.68,178.00H147.88M146.68,203.30H147.88M149.20,174.10H150.40M149.20,198.60H150.40M151.72,167.70H152.92M151.72,179.00H152.92M154.24,172.30H155.44M154.24,190.50H155.44M156.76,189.00H157.96M156.76,208.00H157.96M159.28,162.20H160.48M159.28,199.20H160.48M161.80,163.30H163.00M161.80,199.20H163.00M164.32,172.90H165.52M164.32,196.00H165.52M171.93,152.10H173.13M171.93,202.60H173.13M174.45,162.00H175.65M174.45,196.00H175.65M176.97,154.60H178.17M176.97,181.70H178.17M179.49,165.00H180.69M179.49,185.10H180.69M182.01,159.20H183.21M182.01,207.50H183.21M184.53,152.10H185.73M184.53,195.20H185.73M187.05,161.30H188.25M187.05,197.00H188.25M189.57,171.30H190.77M189.57,199.90H190.77M197.18,175.00H198.38M197.18,190.00H198.38M199.70,131.20H200.90M199.70,190.80H200.90M202.22,121.90H203.42M202.22,190.80H203.42M204.74,178.00H205.94M204.74,201.50H205.94M207.26,171.00H208.46M207.26,206.90H208.46M209.78,172.00H210.98M209.78,200.00H210.98M212.30,162.20H213.50M212.30,203.10H213.50M214.82,151.40H216.02M214.82,205.40H216.02M222.43,143.00H223.63M222.43,201.50H223.63M224.95,107.00H226.15M224.95,193.00H226.15M227.47,134.50H228.67M227.47,193.00H228.67M229.99,178.00H231.19M229.99,206.20H231.19M232.51,178.00H233.71M232.51,206.90H233.71M235.03,178.00H236.23M235.03,203.10H236.23M237.55,160.20H238.75M237.55,203.10H238.75M240.07,153.50H241.27M240.07,200.00H241.27M247.68,154.70H248.88M247.68,203.10H248.88M250.20,104.50H251.40M250.20,203.10H251.40M252.72,141.50H253.92M252.72,203.10H253.92M255.24,168.00H256.44M255.24,196.00H256.44M257.76,175.00H258.96M257.76,199.20H258.96M260.28,162.40H261.48M260.28,200.80H261.48M262.80,158.40H264.00M262.80,201.50H264.00M265.32,165.50H266.52M265.32,200.00H266.52" stroke="#222" stroke-width="0.8" fill="none"/>
<rect x="45.13" y="182.70" width="2.3" height="9.80" fill="#0072BD"/><rect x="47.65" y="184.80" width="2.3" height="6.70" fill="#D95319"/><rect x="50.17" y="185.40" width="2.3" height="19.00" fill="#EDB120"/><rect x="52.69" y="191.30" width="2.3" height="12.50" fill="#7E2F8E"/><rect x="55.21" y="190.90" width="2.3" height="9.10" fill="#77AC30"/><rect x="57.73" y="194.20" width="2.3" height="7.70" fill="#4DBEEE"/><rect x="60.25" y="195.80" width="2.3" height="4.20" fill="#A2142F"/><rect x="62.77" y="196.50" width="2.3" height="7.30" fill="#FF9B9B"/><rect x="70.38" y="179.50" width="2.3" height="10.80" fill="#0072BD"/><rect x="72.90" y="157.90" width="2.3" height="35.50" fill="#D95319"/><rect x="75.42" y="161.60" width="2.3" height="23.90" fill="#EDB120"/><rect x="77.94" y="179.80" width="2.3" height="21.00" fill="#7E2F8E"/><rect x="80.46" y="182.90" width="2.3" height="16.70" fill="#77AC30"/><rect x="82.98" y="176.80" width="2.3" height="11.70" fill="#4DBEEE"/><rect x="85.50" y="177.20" width="2.3" height="13.70" fill="#A2142F"/><rect x="88.02" y="169.90" width="2.3" height="29.70" fill="#FF9B9B"/><rect x="95.63" y="173.20" width="2.3" height="13.90" fill="#0072BD"/><rect x="98.15" y="151.10" width="2.3" height="34.00" fill="#D95319"/><rect x="100.67" y="169.40" width="2.3" height="20.70" fill="#EDB120"/><rect x="103.19" y="184.70" width="2.3" height="16.50" fill="#7E2F8E"/><rect x="105.71" y="187.40" width="2.3" height="13.80" fill="#77AC30"/><rect x="108.23" y="179.00" width="2.3" height="18.90" fill="#4DBEEE"/><rect x="110.75" y="174.80" width="2.3" height="18.40" fill="#A2142F"/><rect x="113.27" y="176.30" width="2.3" height="23.60" fill="#FF9B9B"/><rect x="120.88" y="165.60" width="2.3" height="24.40" fill="#0072BD"/><rect x="123.40" y="173.60" width="2.3" height="16.40" fill="#D95319"/><rect x="125.92" y="178.50" width="2.3" height="16.10" fill="#EDB120"/><rect x="128.44" y="183.00" width="2.3" height="15.90" fill="#7E2F8E"/><rect x="130.96" y="185.40" width="2.3" height="14.60" fill="#77AC30"/><rect x="133.48" y="190.80" width="2.3" height="10.70" fill="#4DBEEE"/><rect x="136.00" y="185.00" width="2.3" height="8.00" fill="#A2142F"/><rect x="138.52" y="187.00" width="2.3" height="7.60" fill="#FF9B9B"/><rect x="146.13" y="181.70" width="2.3" height="18.90" fill="#0072BD"/><rect x="148.65" y="175.80" width="2.3" height="15.40" fill="#D95319"/><rect x="151.17" y="168.60" width="2.3" height="8.40" fill="#EDB120"/><rect x="153.69" y="175.20" width="2.3" height="13.90" fill="#7E2F8E"/><rect x="156.21" y="190.50" width="2.3" height="16.80" fill="#77AC30"/><rect x="158.73" y="171.80" width="2.3" height="22.00" fill="#4DBEEE"/><rect x="161.25" y="174.90" width="2.3" height="19.60" fill="#A2142F"/><rect x="163.77" y="185.80" width="2.3" height="9.40" fill="#FF9B9B"/><rect x="171.38" y="175.90" width="2.3" height="24.70" fill="#0072BD"/><rect x="173.90" y="162.70" width="2.3" height="29.10" fill="#D95319"/><rect x="176.42" y="167.00" width="2.3" height="12.00" fill="#EDB120"/><rect x="178.94" y="166.70" width="2.3" height="15.70" fill="#7E2F8E"/><rect x="181.46" y="179.00" width="2.3" height="27.60" fill="#77AC30"/><rect x="183.98" y="170.70" width="2.3" height="21.80" fill="#4DBEEE"/><rect x="186.50" y="169.00" width="2.3" height="24.80" fill="#A2142F"/><rect x="189.02" y="185.80" width="2.3" height="9.40" fill="#FF9B9B"/><rect x="196.63" y="178.90" width="2.3" height="7.30" fill="#0072BD"/><rect x="199.15" y="147.40" width="2.3" height="33.60" fill="#D95319"/><rect x="201.67" y="150.10" width="2.3" height="34.50" fill="#EDB120"/><rect x="204.19" y="182.00" width="2.3" height="18.00" fill="#7E2F8E"/><rect x="206.71" y="185.40" width="2.3" height="16.10" fill="#77AC30"/><rect x="209.23" y="177.70" width="2.3" height="20.00" fill="#4DBEEE"/><rect x="211.75" y="168.90" width="2.3" height="25.70" fill="#A2142F"/><rect x="214.27" y="171.00" width="2.3" height="25.20" fill="#FF9B9B"/><rect x="221.88" y="161.50" width="2.3" height="27.70" fill="#0072BD"/><rect x="224.40" y="145.70" width="2.3" height="39.70" fill="#D95319"/><rect x="226.92" y="154.50" width="2.3" height="34.70" fill="#EDB120"/><rect x="229.44" y="180.00" width="2.3" height="17.70" fill="#7E2F8E"/><rect x="231.96" y="180.80" width="2.3" height="20.70" fill="#77AC30"/><rect x="234.48" y="180.80" width="2.3" height="18.40" fill="#4DBEEE"/><rect x="237.00" y="180.00" width="2.3" height="19.20" fill="#A2142F"/><rect x="239.52" y="173.80" width="2.3" height="21.60" fill="#FF9B9B"/><rect x="247.13" y="168.80" width="2.3" height="28.10" fill="#0072BD"/><rect x="249.65" y="155.80" width="2.3" height="40.40" fill="#D95319"/><rect x="252.17" y="152.20" width="2.3" height="37.80" fill="#EDB120"/><rect x="254.69" y="171.60" width="2.3" height="19.90" fill="#7E2F8E"/><rect x="257.21" y="180.00" width="2.3" height="16.90" fill="#77AC30"/><rect x="259.73" y="170.70" width="2.3" height="27.80" fill="#4DBEEE"/><rect x="262.25" y="171.90" width="2.3" height="23.50" fill="#A2142F"/><rect x="264.77" y="176.20" width="2.3" height="16.10" fill="#FF9B9B"/>
<path d="M45.13,187.40H47.43M47.65,188.00H49.95M50.17,199.60H52.47M52.69,201.40H54.99M55.21,198.10H57.51M57.73,197.30H60.03M60.25,197.30H62.55M62.77,199.60H65.07M70.38,184.40H72.68M72.90,184.20H75.20M75.42,183.20H77.72M77.94,190.30H80.24M80.46,196.20H82.76M82.98,181.00H85.28M85.50,181.10H87.80M88.02,190.90H90.32M95.63,181.00H97.93M98.15,172.30H100.45M100.67,181.00H102.97M103.19,195.20H105.49M105.71,191.20H108.01M108.23,183.00H110.53M110.75,180.40H113.05M113.27,195.50H115.57M120.88,177.40H123.18M123.40,183.00H125.70M125.92,190.00H128.22M128.44,190.00H130.74M130.96,196.20H133.26M133.48,197.70H135.78M136.00,188.00H138.30M138.52,193.80H140.82M146.13,187.10H148.43M148.65,184.40H150.95M151.17,172.30H153.47M153.69,185.10H155.99M156.21,191.20H158.51M158.73,182.00H161.03M161.25,187.10H163.55M163.77,192.50H166.07M171.38,195.90H173.68M173.90,182.40H176.20M176.42,167.90H178.72M178.94,180.40H181.24M181.46,189.80H183.76M183.98,190.10H186.28M186.50,183.10H188.80M189.02,194.50H191.32M196.63,181.10H198.93M199.15,177.70H201.45M201.67,170.00H203.97M204.19,186.90H206.49M206.71,189.20H209.01M209.23,181.10H211.53M211.75,191.50H214.05M214.27,189.20H216.57M221.88,182.30H224.18M224.40,175.80H226.70M226.92,180.50H229.22M229.44,191.50H231.74M231.96,195.40H234.26M234.48,189.20H236.78M237.00,193.00H239.30M239.52,188.50H241.82M247.13,185.40H249.43M249.65,182.00H251.95M252.17,174.30H254.47M254.69,181.50H256.99M257.21,193.80H259.51M259.73,180.00H262.03M262.25,181.50H264.55M264.77,185.40H267.07" stroke="#f00" stroke-width="1.1" fill="none"/>
<circle cx="48.80" cy="174.10" r="0.9" fill="#f00"/><circle cx="48.80" cy="199.60" r="0.9" fill="#f00"/><circle cx="61.40" cy="183.90" r="0.9" fill="#f00"/><circle cx="71.53" cy="124.10" r="0.9" fill="#f00"/><circle cx="76.57" cy="122.00" r="0.9" fill="#f00"/><circle cx="79.09" cy="137.00" r="0.9" fill="#f00"/><circle cx="96.78" cy="142.80" r="0.9" fill="#f00"/><circle cx="101.82" cy="127.80" r="0.9" fill="#f00"/><circle cx="104.34" cy="145.10" r="0.9" fill="#f00"/><circle cx="147.28" cy="155.10" r="0.9" fill="#f00"/><circle cx="149.80" cy="116.60" r="0.9" fill="#f00"/><circle cx="152.32" cy="202.60" r="0.9" fill="#f00"/><circle cx="154.84" cy="145.20" r="0.9" fill="#f00"/><circle cx="157.36" cy="159.50" r="0.9" fill="#f00"/><circle cx="175.05" cy="116.10" r="0.9" fill="#f00"/><circle cx="180.09" cy="143.50" r="0.9" fill="#f00"/><circle cx="197.78" cy="131.20" r="0.9" fill="#f00"/><circle cx="205.34" cy="136.90" r="0.9" fill="#f00"/><circle cx="230.59" cy="145.10" r="0.9" fill="#f00"/><circle cx="255.84" cy="144.50" r="0.9" fill="#f00"/>
<path d="M345.08,127.10V128.50M345.08,136.90V137.50M347.60,118.50V125.70M347.60,144.70V146.00M350.12,115.90V131.00M350.12,180.00V199.00M352.64,120.20V146.30M352.64,184.40V197.30M355.16,128.80V132.50M355.16,166.50V198.50M357.68,128.80V153.40M357.68,176.00V199.60M360.20,134.00V139.30M360.20,170.80V180.00M362.72,141.00V161.90M362.72,177.30V188.10M370.33,131.00V146.20M370.33,163.80V177.70M372.85,109.40V132.00M372.85,183.10V186.90M375.37,116.20V134.10M375.37,166.20V175.00M377.89,117.20V139.40M377.89,186.90V190.80M380.41,137.30V161.50M380.41,184.60V206.20M382.93,140.50V146.20M382.93,176.90V189.70M385.45,135.20V145.50M385.45,170.80V175.40M387.97,115.10V143.50M387.97,194.60V198.50M395.58,121.40V127.80M395.58,155.40V184.20M398.10,121.40V126.70M398.10,144.90V149.20M400.62,116.20V127.20M400.62,153.10V166.90M403.14,121.40V139.80M403.14,179.50V194.30M405.66,134.10V145.50M405.66,174.30V182.00M408.18,136.00V150.50M408.18,182.30V195.40M410.70,127.80V133.10M410.70,150.00V160.00M413.22,115.10V134.10M413.22,186.20V196.00M420.83,120.40V122.10M420.83,157.20V200.80M423.35,114.00V136.30M423.35,152.30V154.60M425.87,126.30V129.90M425.87,156.20V170.80M428.39,140.00V142.00M428.39,171.50V176.20M430.91,125.70V144.10M430.91,178.90V204.60M433.43,118.30V159.20M433.43,192.80V202.30M435.95,129.90V135.20M435.95,158.50V172.30M438.47,126.70V137.30M438.47,169.20V183.10M446.08,133.10V138.40M446.08,190.00V204.60M448.60,113.00V135.60M448.60,161.50V182.00M451.12,105.40V116.20M451.12,131.40V135.00M453.64,103.90V124.20M453.64,148.50V150.80M456.16,137.30V140.50M456.16,160.80V179.20M458.68,113.00V127.80M458.68,160.00V189.20M461.20,120.40V126.70M461.20,181.50V203.10M463.72,145.00V153.10M463.72,164.60V173.80M471.33,130.00V142.70M471.33,188.50V204.20M473.85,113.00V132.00M473.85,168.50V189.70M476.37,108.80V119.30M476.37,133.00V140.00M478.89,103.90V113.60M478.89,152.30V156.90M481.41,128.50V136.30M481.41,156.20V158.00M483.93,109.80V128.80M483.93,168.50V169.20M486.45,118.70V125.70M486.45,180.00V203.10M488.97,135.00V153.80M488.97,168.50V185.00M496.58,132.00V141.50M496.58,156.50V161.20M499.10,131.20V133.10M499.10,148.80V152.00M501.62,117.20V123.60M501.62,162.70V168.10M504.14,115.10V136.90M504.14,199.50V202.30M506.66,126.70V136.30M506.66,171.50V206.20M509.18,142.00V145.60M509.18,173.10V200.80M511.70,141.20V147.30M511.70,174.60V185.40M514.22,113.60V129.90M514.22,190.80V192.00M521.83,118.30V125.70M521.83,171.50V204.20M524.35,97.50V108.80M524.35,154.70V178.90M526.87,115.10V124.60M526.87,154.70V169.60M529.39,122.10V127.80M529.39,171.60V194.60M531.91,137.30V143.90M531.91,164.20V200.00M534.43,140.50V149.60M534.43,174.60V183.10M536.95,127.80V146.10M536.95,190.80V195.40M539.47,112.00V132.00M539.47,189.70V193.10M547.08,136.30V141.20M547.08,177.70V204.60M549.60,110.90V128.40M549.60,182.30V202.30M552.12,112.00V115.10M552.12,161.90V206.20M554.64,110.20V119.30M554.64,151.20V165.00M557.16,142.60V155.00M557.16,190.80V199.20M559.68,113.00V133.10M559.68,185.40V198.50M562.20,127.80V134.10M562.20,186.90V206.20M564.72,122.10V141.20M564.72,165.80V178.50" stroke="#444" stroke-width="0.65" stroke-dasharray="1.1,1.2" fill="none"/>
<path d="M344.48,127.10H345.68M344.48,137.50H345.68M347.00,118.50H348.20M347.00,146.00H348.20M349.52,115.90H350.72M349.52,199.00H350.72M352.04,120.20H353.24M352.04,197.30H353.24M354.56,128.80H355.76M354.56,198.50H355.76M357.08,128.80H358.28M357.08,199.60H358.28M359.60,134.00H360.80M359.60,180.00H360.80M362.12,141.00H363.32M362.12,188.10H363.32M369.73,131.00H370.93M369.73,177.70H370.93M372.25,109.40H373.45M372.25,186.90H373.45M374.77,116.20H375.97M374.77,175.00H375.97M377.29,117.20H378.49M377.29,190.80H378.49M379.81,137.30H381.01M379.81,206.20H381.01M382.33,140.50H383.53M382.33,189.70H383.53M384.85,135.20H386.05M384.85,175.40H386.05M387.37,115.10H388.57M387.37,198.50H388.57M394.98,121.40H396.18M394.98,184.20H396.18M397.50,121.40H398.70M397.50,149.20H398.70M400.02,116.20H401.22M400.02,166.90H401.22M402.54,121.40H403.74M402.54,194.30H403.74M405.06,134.10H406.26M405.06,182.00H406.26M407.58,136.00H408.78M407.58,195.40H408.78M410.10,127.80H411.30M410.10,160.00H411.30M412.62,115.10H413.82M412.62,196.00H413.82M420.23,120.40H421.43M420.23,200.80H421.43M422.75,114.00H423.95M422.75,154.60H423.95M425.27,126.30H426.47M425.27,170.80H426.47M427.79,140.00H428.99M427.79,176.20H428.99M430.31,125.70H431.51M430.31,204.60H431.51M432.83,118.30H434.03M432.83,202.30H434.03M435.35,129.90H436.55M435.35,172.30H436.55M437.87,126.70H439.07M437.87,183.10H439.07M445.48,133.10H446.68M445.48,204.60H446.68M448.00,113.00H449.20M448.00,182.00H449.20M450.52,105.40H451.72M450.52,135.00H451.72M453.04,103.90H454.24M453.04,150.80H454.24M455.56,137.30H456.76M455.56,179.20H456.76M458.08,113.00H459.28M458.08,189.20H459.28M460.60,120.40H461.80M460.60,203.10H461.80M463.12,145.00H464.32M463.12,173.80H464.32M470.73,130.00H471.93M470.73,204.20H471.93M473.25,113.00H474.45M473.25,189.70H474.45M475.77,108.80H476.97M475.77,140.00H476.97M478.29,103.90H479.49M478.29,156.90H479.49M480.81,128.50H482.01M480.81,158.00H482.01M483.33,109.80H484.53M483.33,169.20H484.53M485.85,118.70H487.05M485.85,203.10H487.05M488.37,135.00H489.57M488.37,185.00H489.57M495.98,132.00H497.18M495.98,161.20H497.18M498.50,131.20H499.70M498.50,152.00H499.70M501.02,117.20H502.22M501.02,168.10H502.22M503.54,115.10H504.74M503.54,202.30H504.74M506.06,126.70H507.26M506.06,206.20H507.26M508.58,142.00H509.78M508.58,200.80H509.78M511.10,141.20H512.30M511.10,185.40H512.30M513.62,113.60H514.82M513.62,192.00H514.82M521.23,118.30H522.43M521.23,204.20H522.43M523.75,97.50H524.95M523.75,178.90H524.95M526.27,115.10H527.47M526.27,169.60H527.47M528.79,122.10H529.99M528.79,194.60H529.99M531.31,137.30H532.51M531.31,200.00H532.51M533.83,140.50H535.03M533.83,183.10H535.03M536.35,127.80H537.55M536.35,195.40H537.55M538.87,112.00H540.07M538.87,193.10H540.07M546.48,136.30H547.68M546.48,204.60H547.68M549.00,110.90H550.20M549.00,202.30H550.20M551.52,112.00H552.72M551.52,206.20H552.72M554.04,110.20H555.24M554.04,165.00H555.24M556.56,142.60H557.76M556.56,199.20H557.76M559.08,113.00H560.28M559.08,198.50H560.28M561.60,127.80H562.80M561.60,206.20H562.80M564.12,122.10H565.32M564.12,178.50H565.32" stroke="#222" stroke-width="0.8" fill="none"/>
<rect x="343.93" y="128.50" width="2.3" height="8.40" fill="#0072BD"/><rect x="346.45" y="125.70" width="2.3" height="19.00" fill="#D95319"/><rect x="348.97" y="131.00" width="2.3" height="49.00" fill="#EDB120"/><rect x="351.49" y="146.30" width="2.3" height="38.10" fill="#7E2F8E"/><rect x="354.01" y="132.50" width="2.3" height="34.00" fill="#77AC30"/><rect x="356.53" y="153.40" width="2.3" height="22.60" fill="#4DBEEE"/><rect x="359.05" y="139.30" width="2.3" height="31.50" fill="#A2142F"/><rect x="361.57" y="161.90" width="2.3" height="15.40" fill="#FF9B9B"/><rect x="369.18" y="146.20" width="2.3" height="17.60" fill="#0072BD"/><rect x="371.70" y="132.00" width="2.3" height="51.10" fill="#D95319"/><rect x="374.22" y="134.10" width="2.3" height="32.10" fill="#EDB120"/><rect x="376.74" y="139.40" width="2.3" height="47.50" fill="#7E2F8E"/><rect x="379.26" y="161.50" width="2.3" height="23.10" fill="#77AC30"/><rect x="381.78" y="146.20" width="2.3" height="30.70" fill="#4DBEEE"/><rect x="384.30" y="145.50" width="2.3" height="25.30" fill="#A2142F"/><rect x="386.82" y="143.50" width="2.3" height="51.10" fill="#FF9B9B"/><rect x="394.43" y="127.80" width="2.3" height="27.60" fill="#0072BD"/><rect x="396.95" y="126.70" width="2.3" height="18.20" fill="#D95319"/><rect x="399.47" y="127.20" width="2.3" height="25.90" fill="#EDB120"/><rect x="401.99" y="139.80" width="2.3" height="39.70" fill="#7E2F8E"/><rect x="404.51" y="145.50" width="2.3" height="28.80" fill="#77AC30"/><rect x="407.03" y="150.50" width="2.3" height="31.80" fill="#4DBEEE"/><rect x="409.55" y="133.10" width="2.3" height="16.90" fill="#A2142F"/><rect x="412.07" y="134.10" width="2.3" height="52.10" fill="#FF9B9B"/><rect x="419.68" y="122.10" width="2.3" height="35.10" fill="#0072BD"/><rect x="422.20" y="136.30" width="2.3" height="16.00" fill="#D95319"/><rect x="424.72" y="129.90" width="2.3" height="26.30" fill="#EDB120"/><rect x="427.24" y="142.00" width="2.3" height="29.50" fill="#7E2F8E"/><rect x="429.76" y="144.10" width="2.3" height="34.80" fill="#77AC30"/><rect x="432.28" y="159.20" width="2.3" height="33.60" fill="#4DBEEE"/><rect x="434.80" y="135.20" width="2.3" height="23.30" fill="#A2142F"/><rect x="437.32" y="137.30" width="2.3" height="31.90" fill="#FF9B9B"/><rect x="444.93" y="138.40" width="2.3" height="51.60" fill="#0072BD"/><rect x="447.45" y="135.60" width="2.3" height="25.90" fill="#D95319"/><rect x="449.97" y="116.20" width="2.3" height="15.20" fill="#EDB120"/><rect x="452.49" y="124.20" width="2.3" height="24.30" fill="#7E2F8E"/><rect x="455.01" y="140.50" width="2.3" height="20.30" fill="#77AC30"/><rect x="457.53" y="127.80" width="2.3" height="32.20" fill="#4DBEEE"/><rect x="460.05" y="126.70" width="2.3" height="54.80" fill="#A2142F"/><rect x="462.57" y="153.10" width="2.3" height="11.50" fill="#FF9B9B"/><rect x="470.18" y="142.70" width="2.3" height="45.80" fill="#0072BD"/><rect x="472.70" y="132.00" width="2.3" height="36.50" fill="#D95319"/><rect x="475.22" y="119.30" width="2.3" height="13.70" fill="#EDB120"/><rect x="477.74" y="113.60" width="2.3" height="38.70" fill="#7E2F8E"/><rect x="480.26" y="136.30" width="2.3" height="19.90" fill="#77AC30"/><rect x="482.78" y="128.80" width="2.3" height="39.70" fill="#4DBEEE"/><rect x="485.30" y="125.70" width="2.3" height="54.30" fill="#A2142F"/><rect x="487.82" y="153.80" width="2.3" height="14.70" fill="#FF9B9B"/><rect x="495.43" y="141.50" width="2.3" height="15.00" fill="#0072BD"/><rect x="497.95" y="133.10" width="2.3" height="15.70" fill="#D95319"/><rect x="500.47" y="123.60" width="2.3" height="39.10" fill="#EDB120"/><rect x="502.99" y="136.90" width="2.3" height="62.60" fill="#7E2F8E"/><rect x="505.51" y="136.30" width="2.3" height="35.20" fill="#77AC30"/><rect x="508.03" y="145.60" width="2.3" height="27.50" fill="#4DBEEE"/><rect x="510.55" y="147.30" width="2.3" height="27.30" fill="#A2142F"/><rect x="513.07" y="129.90" width="2.3" height="60.90" fill="#FF9B9B"/><rect x="520.68" y="125.70" width="2.3" height="45.80" fill="#0072BD"/><rect x="523.20" y="108.80" width="2.3" height="45.90" fill="#D95319"/><rect x="525.72" y="124.60" width="2.3" height="30.10" fill="#EDB120"/><rect x="528.24" y="127.80" width="2.3" height="43.80" fill="#7E2F8E"/><rect x="530.76" y="143.90" width="2.3" height="20.30" fill="#77AC30"/><rect x="533.28" y="149.60" width="2.3" height="25.00" fill="#4DBEEE"/><rect x="535.80" y="146.10" width="2.3" height="44.70" fill="#A2142F"/><rect x="538.32" y="132.00" width="2.3" height="57.70" fill="#FF9B9B"/><rect x="545.93" y="141.20" width="2.3" height="36.50" fill="#0072BD"/><rect x="548.45" y="128.40" width="2.3" height="53.90" fill="#D95319"/><rect x="550.97" y="115.10" width="2.3" height="46.80" fill="#EDB120"/><rect x="553.49" y="119.30" width="2.3" height="31.90" fill="#7E2F8E"/><rect x="556.01" y="155.00" width="2.3" height="35.80" fill="#77AC30"/><rect x="558.53" y="133.10" width="2.3" height="52.30" fill="#4DBEEE"/><rect x="561.05" y="134.10" width="2.3" height="52.80" fill="#A2142F"/><rect x="563.57" y="141.20" width="2.3" height="24.60" fill="#FF9B9B"/>
<path d="M348.97,166.60H351.27M351.49,170.70H353.79M354.01,153.40H356.31M356.53,160.30H358.83M359.05,146.40H361.35M361.57,172.70H363.87M369.18,160.00H371.48M371.70,149.50H374.00M374.22,149.50H376.52M376.74,159.70H379.04M379.26,166.20H381.56M381.78,148.50H384.08M384.30,150.40H386.60M386.82,162.30H389.12M394.43,146.90H396.73M396.95,144.50H399.25M399.47,145.40H401.77M401.99,159.20H404.29M404.51,167.40H406.81M407.03,162.30H409.33M409.55,144.60H411.85M412.07,173.10H414.37M419.68,125.70H421.98M422.20,141.50H424.50M424.72,145.40H427.02M427.24,162.30H429.54M429.76,153.50H432.06M432.28,168.00H434.58M434.80,146.50H437.10M437.32,161.50H439.62M444.93,152.30H447.23M449.97,126.30H452.27M452.49,134.10H454.79M455.01,154.60H457.31M457.53,155.40H459.83M460.05,150.50H462.35M462.57,158.50H464.87M470.18,171.40H472.48M475.22,126.30H477.52M477.74,128.80H480.04M480.26,150.50H482.56M482.78,159.20H485.08M485.30,142.80H487.60M487.82,164.60H490.12M495.43,145.00H497.73M497.95,140.40H500.25M500.47,143.50H502.77M502.99,158.10H505.29M505.51,158.10H507.81M508.03,168.00H510.33M510.55,159.90H512.85M513.07,174.60H515.37M520.68,151.20H522.98M523.20,138.10H525.50M525.72,138.80H528.02M528.24,149.60H530.54M530.76,156.50H533.06M533.28,162.40H535.58M535.80,173.10H538.10M538.32,149.60H540.62M545.93,153.20H548.23M548.45,137.30H550.75M550.97,136.50H553.27M553.49,145.50H555.79M556.01,164.20H558.31M558.53,149.60H560.83M561.05,150.40H563.35M563.57,157.30H565.87" stroke="#f00" stroke-width="1.1" fill="none"/>
<circle cx="345.08" cy="206.50" r="0.9" fill="#f00"/><circle cx="347.60" cy="170.70" r="0.9" fill="#f00"/><circle cx="410.70" cy="195.40" r="0.9" fill="#f00"/><circle cx="423.35" cy="191.50" r="0.9" fill="#f00"/><circle cx="451.12" cy="205.70" r="0.9" fill="#f00"/><circle cx="463.72" cy="137.30" r="0.9" fill="#f00"/><circle cx="481.41" cy="182.30" r="0.9" fill="#f00"/><circle cx="499.10" cy="107.30" r="0.9" fill="#f00"/><circle cx="499.10" cy="187.70" r="0.9" fill="#f00"/><circle cx="554.64" cy="144.50" r="0.9" fill="#f00"/>
</svg></body></html>
